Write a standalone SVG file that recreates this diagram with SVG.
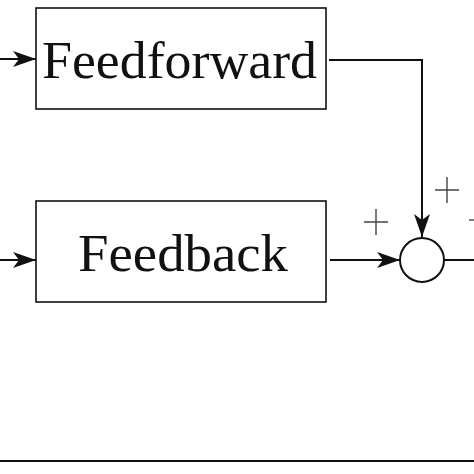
<svg xmlns="http://www.w3.org/2000/svg" width="474" height="474" viewBox="0 0 474 474">
<defs>
<style>
.box{fill:#fff;stroke:#111;stroke-width:1.6}
.lbl{font-family:"Liberation Serif","DejaVu Serif",serif;font-size:53px;fill:#111}
.wire{fill:none;stroke:#111;stroke-width:2}
.sign{stroke:#444;stroke-width:1.4;fill:none}
</style>
<marker id="arr" viewBox="0 0 23 16" refX="23" refY="8" markerWidth="23" markerHeight="16" markerUnits="userSpaceOnUse" orient="auto">
<path d="M0,0 L23,8 L0,16 L6,8 Z" fill="#111"/>
</marker>
</defs>
<rect width="474" height="474" fill="#fff"/>
<g id="connectors">
<line class="wire" x1="0" y1="59" x2="36" y2="59" marker-end="url(#arr)"/>
<line class="wire" x1="0" y1="260" x2="36" y2="260" marker-end="url(#arr)"/>
<polyline class="wire" points="329,60 422,60 422,237" marker-end="url(#arr)"/>
<line class="wire" x1="330" y1="260" x2="400" y2="260" marker-end="url(#arr)"/>
<line class="wire" x1="444" y1="260" x2="474" y2="260"/>
<line class="wire" x1="0" y1="461" x2="474" y2="461"/>
</g>
<g id="feedforward">
<rect class="box" x="36" y="8" width="290" height="101"/>
<text class="lbl" x="42" y="78" textLength="275" lengthAdjust="spacingAndGlyphs">Feedforward</text>
</g>
<g id="feedback">
<rect class="box" x="36" y="201" width="290" height="101"/>
<text class="lbl" x="78" y="271" textLength="210" lengthAdjust="spacingAndGlyphs">Feedback</text>
</g>
<g id="sum">
<circle cx="422" cy="260" r="22" fill="#fff" stroke="#111" stroke-width="2"/>
</g>
<g id="signs">
<path class="sign" d="M364,222 H388 M376,209 V235"/>
<path class="sign" d="M435,190 H459 M447,177 V203"/>
<path class="sign" d="M469,220 H474"/>
</g>
</svg>
